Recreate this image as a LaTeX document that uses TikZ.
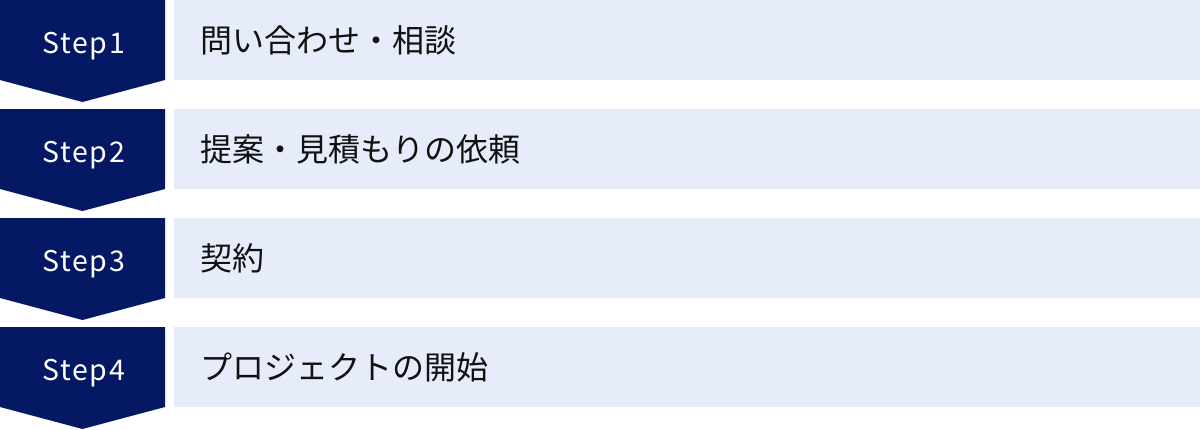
\documentclass[tikz,border=0pt]{standalone}
\usepackage{fontspec}
\newfontfamily\jpfont{Noto Sans CJK JP}
\newfontfamily\stepfont[LetterSpace=6]{Noto Sans CJK JP}
\definecolor{navy}{HTML}{041863}
\definecolor{lightbox}{HTML}{E6ECF9}
\definecolor{txt}{HTML}{111111}
\tikzset{
  steplabel/.style={text=white, font=\stepfont\fontsize{28.5}{28.5}\selectfont, inner sep=0pt, anchor=base},
  itemlabel/.style={text=txt, font=\jpfont\fontsize{32}{32}\selectfont, inner sep=0pt, anchor=base west},
}
\begin{document}
\begin{tikzpicture}[x=1pt,y=-1pt]
\useasboundingbox (0,0) rectangle (1200,429);
\foreach \i/\lab/\txt in {0/1/問い合わせ・相談, 1/2/提案・見積もりの依頼, 2/3/契約, 3/4/プロジェクトの開始}{
  \pgfmathsetmacro{\y}{\i*109}
  \fill[navy] (0,\y) -- (165,\y) -- (165,\y+80) -- (82.5,\y+102) -- (0,\y+80) -- cycle;
  \fill[lightbox] (174,\y) rectangle (1200,\y+80);
  \node[steplabel] (s\lab) at (83.5,\y+53.5) {Step\lab};
  \node[itemlabel] (t\lab) at (200.5,\y+52.5) {\txt};
}
\end{tikzpicture}
\end{document}
